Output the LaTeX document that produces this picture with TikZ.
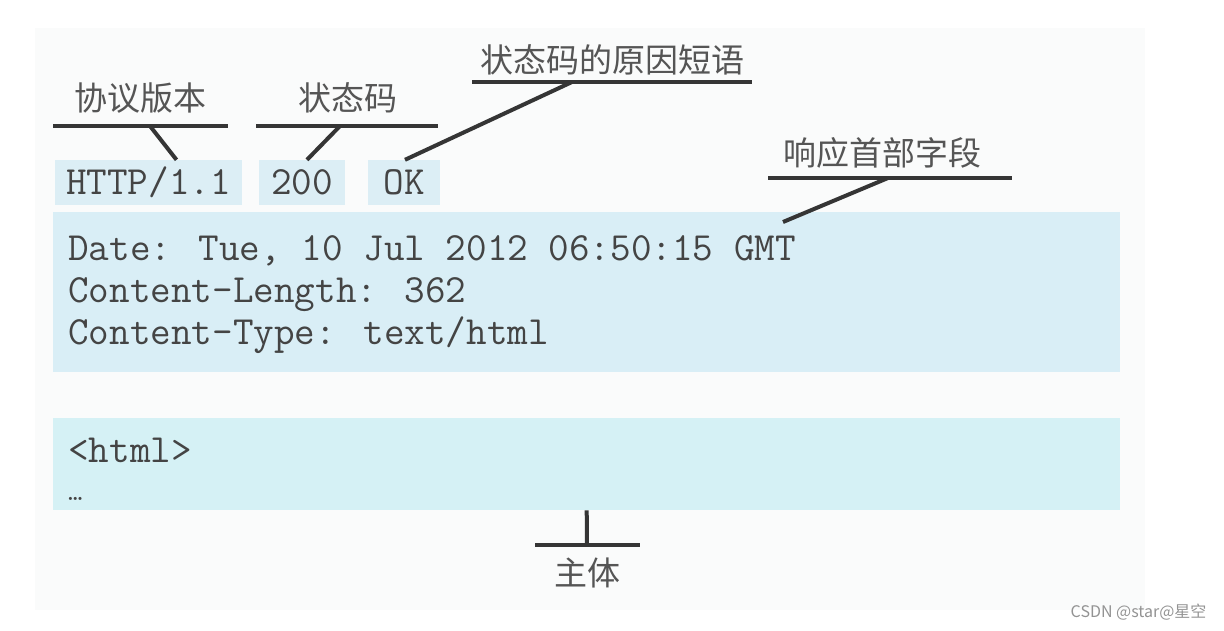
\documentclass[tikz,border=0pt]{standalone}
\usepackage{fontspec}
\newfontfamily\cjk{Noto Sans CJK SC}
\usetikzlibrary{positioning}

\definecolor{pagebg}{HTML}{FAFBFB}
\definecolor{tagblue}{HTML}{DCEEF5}
\definecolor{hdrblue}{HTML}{D9EEF6}
\definecolor{bodyblue}{HTML}{D5F1F5}
\definecolor{codegray}{HTML}{444444}
\definecolor{lblgray}{HTML}{555555}
\definecolor{linegray}{HTML}{353535}

\tikzset{
  tag/.style={fill=tagblue, font=\ttfamily\fontsize{40}{42}\selectfont, text=codegray,
    minimum height=45, inner sep=0pt, text height=24, text depth=0},
  codeline/.style={font=\ttfamily\fontsize{40}{42}\selectfont, text=codegray,
    inner sep=0pt, anchor=base west},
  lbl/.style={font=\cjk\fontsize{33}{33}\selectfont, text=lblgray},
  tick/.style={line width=4pt, draw=linegray},
  wmark/.style={font=\cjk\fontsize{16}{16}\selectfont, text=gray!85},
}

\begin{document}
\begin{tikzpicture}[x=1pt,y=-1pt]
\useasboundingbox (0,0) rectangle (1224,630);
\fill [pagebg] (35,28) rectangle (1145,610);

% status line
\node [tag, minimum width=187] (ver) at (148.5,182.5) {HTTP/1.1};
\node [tag, minimum width=86] (code) at (302,182.5) {200};
\node [tag, minimum width=72] (ok) at (404,182.5) {OK};

% header fields
\node [fill=hdrblue, minimum width=1067, minimum height=160, anchor=north west, inner sep=0pt] (hdrbox) at (53,212) {};
\node [codeline] (date) at (68,260) {Date: Tue, 10 Jul 2012 06:50:15 GMT};
\node [codeline] (clen) at (68,302) {Content-Length: 362};
\node [codeline] (ctype) at (68,344) {Content-Type: text/html};

% body
\node [fill=bodyblue, minimum width=1067, minimum height=92, anchor=north west, inner sep=0pt] (bodybox) at (53,418) {};
\node [codeline] (html) at (68,462) {<html>};
\node [codeline, font=\ttfamily\fontsize{28}{28}\selectfont] (dots) at (68,500) {…};

% labels
\node [lbl] (verlbl) at (140,98) {协议版本};
\coordinate (verl) at (53,126);
\coordinate (verr) at (228,126);
\coordinate (verk) at (150,126);
\draw [tick] (verl) -- (verr);
\draw [tick] (verk) -- ([xshift=28]ver.north);

\node [lbl] (codelbl) at (348,98) {状态码};
\coordinate (codel) at (256,126);
\coordinate (coder) at (438,126);
\coordinate (codek) at (340,126);
\draw [tick] (codel) -- (coder);
\draw [tick] (codek) -- ([xshift=5]code.north);

\node [lbl] (oklbl) at (612,60) {状态码的原因短语};
\coordinate (okl) at (472,82);
\coordinate (okr) at (752,82);
\coordinate (okk) at (572,82);
\draw [tick] (okl) -- (okr);
\draw [tick] (okk) -- ([xshift=1]ok.north);

\node [lbl] (hdrlbl) at (882,153) {响应首部字段};
\coordinate (hdrl) at (768,178);
\coordinate (hdrr) at (1012,178);
\coordinate (hdrk) at (888,178);
\coordinate (hdrtip) at (783,222);
\draw [tick] (hdrl) -- (hdrr);
\draw [tick] (hdrk) -- (hdrtip);

\node [lbl] (bodylbl) at (587,573) {主体};
\coordinate (bodyk) at (587,545);
\coordinate (bodyl) at (535,545);
\coordinate (bodyr) at (640,545);
\draw [tick] (bodybox.south) -- (bodyk);
\draw [tick] (bodyl) -- (bodyr);

\node [wmark, anchor=east] (wm) at (1210,612) {CSDN @star@星空};
\end{tikzpicture}
\end{document}
